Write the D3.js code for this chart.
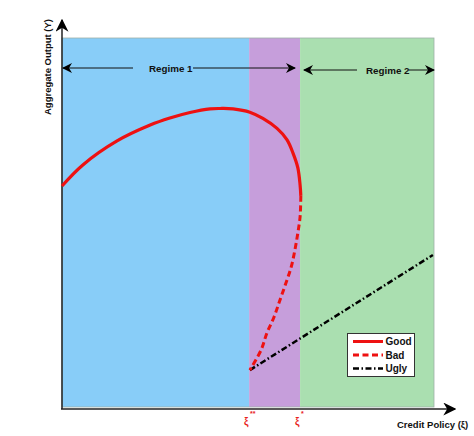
<!DOCTYPE html>
<html>
<head>
<meta charset="utf-8">
<script src="https://cdn.jsdelivr.net/npm/d3@7"></script>
<style>
  html, body { margin: 0; padding: 0; background: #fff; }
  svg { display: block; }
  text { font-family: "Liberation Sans", Arial, Helvetica, sans-serif; font-weight: bold; }
</style>
</head>
<body>
<svg id="chart" width="474" height="436"></svg>
<script>
// ---- data ----
const regimeBounds = [0, 0.503, 0.640, 1];          // ξ positions: start, ξ**, ξ*, end
const regimeColors = ["#88CDF8", "#C69EDB", "#AADFB0"];
const thresholdLabels = [{x: 0.503, sup: "**"}, {x: 0.640, sup: "*"}];

const goodX = [0, 0.056, 0.148, 0.237, 0.290, 0.344, 0.398, 0.425, 0.460, 0.505, 0.540, 0.578, 0.605, 0.621, 0.634, 0.640, 0.642];
const goodY = [0.599, 0.656, 0.721, 0.764, 0.783, 0.798, 0.808, 0.809, 0.808, 0.799, 0.782, 0.755, 0.724, 0.688, 0.648, 0.602, 0.572];

const badX = [0.642, 0.640, 0.634, 0.626, 0.616, 0.602, 0.586, 0.570, 0.551, 0.535, 0.505];
const badY = [0.572, 0.515, 0.472, 0.425, 0.379, 0.336, 0.290, 0.244, 0.201, 0.154, 0.100];

const uglyX = [0.505, 0.997];
const uglyY = [0.100, 0.412];

const legendLabels = ["Good", "Bad", "Ugly"];

// ---- layout ----
const svg = d3.select("#chart");
const x = d3.scaleLinear().domain([0, 1]).range([62, 434]);
const y = d3.scaleLinear().domain([0, 1]).range([407, 38]);

// regime backgrounds
svg.append("g").selectAll("rect")
  .data(regimeColors)
  .join("rect")
  .attr("x", (d, i) => x(regimeBounds[i]))
  .attr("y", y(1))
  .attr("width", (d, i) => x(regimeBounds[i + 1]) - x(regimeBounds[i]))
  .attr("height", y(0) - y(1))
  .attr("fill", d => d);
svg.append("rect")
  .attr("x", x(0)).attr("y", y(1))
  .attr("width", x(1) - x(0)).attr("height", y(0) - y(1))
  .attr("fill", "none").attr("stroke", "#9fb0a8").attr("stroke-width", 0.8);

// arrow markers
const defs = svg.append("defs");
function marker(id, size) {
  defs.append("marker")
    .attr("id", id)
    .attr("viewBox", "0 0 10 10")
    .attr("refX", 9).attr("refY", 5)
    .attr("markerWidth", size).attr("markerHeight", size)
    .attr("markerUnits", "userSpaceOnUse")
    .attr("orient", "auto-start-reverse")
    .append("path")
    .attr("d", "M0,0 L10,5 L0,10 L3,5 Z")
    .attr("fill", "#000");
}
marker("arr", 10);
marker("axarr", 13);

// axes
svg.append("line")
  .attr("x1", x(0)).attr("y1", 409).attr("x2", x(0)).attr("y2", 20)
  .attr("stroke", "#222").attr("stroke-width", 1.5).attr("marker-end", "url(#axarr)");
svg.append("line")
  .attr("x1", x(0) - 1).attr("y1", 409).attr("x2", 455).attr("y2", 409)
  .attr("stroke", "#222").attr("stroke-width", 1.5).attr("marker-end", "url(#axarr)");

// regime annotations
const ann = svg.append("g");
const yR1 = 68, yR2 = 70;
ann.append("line").attr("x1", 133).attr("y1", yR1).attr("x2", 63).attr("y2", yR1)
  .attr("stroke", "#111").attr("stroke-width", 1).attr("marker-end", "url(#arr)");
ann.append("text").attr("x", 149).attr("y", yR1 + 3.6).attr("font-size", 9.8).attr("fill", "#111").text("Regime 1");
ann.append("line").attr("x1", 193).attr("y1", yR1).attr("x2", 295).attr("y2", yR1)
  .attr("stroke", "#111").attr("stroke-width", 1).attr("marker-end", "url(#arr)");
ann.append("line").attr("x1", 357).attr("y1", yR2).attr("x2", 304).attr("y2", yR2)
  .attr("stroke", "#111").attr("stroke-width", 1).attr("marker-end", "url(#arr)");
ann.append("text").attr("x", 366).attr("y", yR2 + 3.6).attr("font-size", 9.8).attr("fill", "#111").text("Regime 2");
ann.append("line").attr("x1", 409).attr("y1", yR2).attr("x2", 434).attr("y2", yR2)
  .attr("stroke", "#111").attr("stroke-width", 1).attr("marker-end", "url(#arr)");

// curves
const line = d3.line().x(d => x(d[0])).y(d => y(d[1])).curve(d3.curveCatmullRom.alpha(0.5));
const goodPts = goodX.map((v, i) => [v, goodY[i]]);
const badPts = badX.map((v, i) => [v, badY[i]]);
const uglyPts = uglyX.map((v, i) => [v, uglyY[i]]);

svg.append("path").attr("d", line(uglyPts))
  .attr("fill", "none").attr("stroke", "#000").attr("stroke-width", 2.5)
  .attr("stroke-dasharray", "6,2.5,1.5,2.5");
svg.append("path").attr("d", line(badPts))
  .attr("fill", "none").attr("stroke", "#ee1111").attr("stroke-width", 3)
  .attr("stroke-dasharray", "6,3.5");
svg.append("path").attr("d", line(goodPts))
  .attr("fill", "none").attr("stroke", "#ee1111").attr("stroke-width", 3.2);

// threshold labels
const th = svg.append("g");
thresholdLabels.forEach(t => {
  const tx = x(t.x);
  th.append("text").attr("x", tx - 5).attr("y", 425).attr("font-size", 10)
    .attr("font-weight", "normal").attr("fill", "#e8231c").text("ξ");
  th.append("text").attr("x", tx + 1).attr("y", 416).attr("font-size", 7)
    .attr("font-weight", "normal").attr("fill", "#e8231c").text(t.sup);
});

// axis labels
svg.append("text").attr("transform", "translate(51,67) rotate(-90)")
  .attr("text-anchor", "middle").attr("font-size", 9.5).attr("fill", "#111")
  .text("Aggregate Output (Y)");
svg.append("text").attr("x", 397).attr("y", 428).attr("font-size", 9.5).attr("fill", "#111")
  .text("Credit Policy (ξ)");

// legend
const lg = svg.append("g");
lg.append("rect").attr("x", 347.5).attr("y", 333.5).attr("width", 67).attr("height", 43)
  .attr("fill", "#fff").attr("stroke", "#333").attr("stroke-width", 1);
const legStyles = [
  {stroke: "#ee1111", dash: null, w: 3},
  {stroke: "#ee1111", dash: "6,3.5", w: 3},
  {stroke: "#000", dash: "6,2.5,1.5,2.5", w: 2.5}
];
const legRowY = [341.5, 355, 368.5];
legendLabels.forEach((lab, i) => {
  lg.append("line").attr("x1", 353).attr("x2", 383).attr("y1", legRowY[i]).attr("y2", legRowY[i])
    .attr("stroke", legStyles[i].stroke).attr("stroke-width", legStyles[i].w)
    .attr("stroke-dasharray", legStyles[i].dash);
  lg.append("text").attr("x", 385.5).attr("y", legRowY[i] + 3.6).attr("font-size", 10)
    .attr("fill", "#111").text(lab);
});
</script>
</body>
</html>
